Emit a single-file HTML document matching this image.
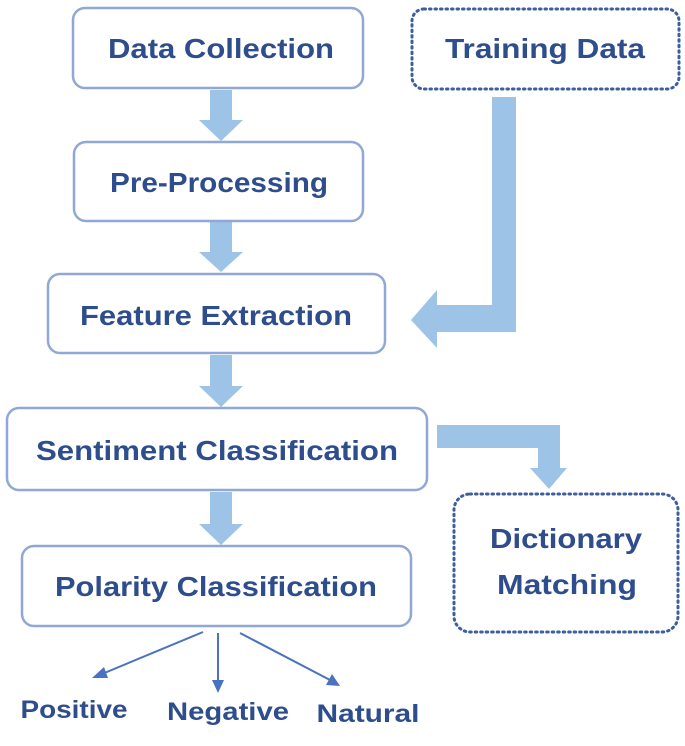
<!DOCTYPE html>
<html><head><style>html,body{margin:0;padding:0;background:#fff}svg{display:block}</style></head>
<body>
<svg width="685" height="746" viewBox="0 0 685 746" xmlns="http://www.w3.org/2000/svg" font-family="'Liberation Sans', sans-serif" font-weight="bold">
<g fill="#9dc3e6">
<polygon points="210,90 232,90 232,120 243,120 221,141 199,120 210,120"/>
<polygon points="210,222 232,222 232,252 243,252 221,272 199,252 210,252"/>
<polygon points="210,355 232,355 232,386 243,386 221,407 199,386 210,386"/>
<polygon points="210,492 232,492 232,524 243,524 221,545 199,524 210,524"/>
<polygon points="492,97 516,97 516,332 437,332 437,348 411,320 437,290 437,305 492,305"/>
<polygon points="437,425 560,425 560,468 567,468 549,489 530,468 538,468 538,448 437,448"/>
</g>
<g fill="#fff" stroke="#8fa8d6" stroke-width="2.5">
<rect x="73" y="8" width="290" height="80" rx="12"/>
<rect x="74" y="142" width="289" height="79" rx="12"/>
<rect x="48" y="274" width="337" height="79" rx="12"/>
<rect x="7" y="408" width="420" height="82" rx="12"/>
<rect x="22" y="546" width="389" height="80" rx="12"/>
</g>
<g fill="none" stroke="#3e5f9e" stroke-width="3" stroke-dasharray="1.5 4" stroke-linecap="round">
<rect x="412" y="9" width="267" height="80" rx="12"/>
<rect x="454" y="494" width="224" height="138" rx="16"/>
</g>
<g fill="#2e4d8c" font-size="28" text-anchor="middle">
<text x="221" y="58" textLength="226" lengthAdjust="spacingAndGlyphs">Data Collection</text>
<text x="545" y="58" textLength="200" lengthAdjust="spacingAndGlyphs">Training Data</text>
<text x="219" y="192" textLength="218" lengthAdjust="spacingAndGlyphs">Pre-Processing</text>
<text x="216" y="325" textLength="272" lengthAdjust="spacingAndGlyphs">Feature Extraction</text>
<text x="217" y="460" textLength="362" lengthAdjust="spacingAndGlyphs">Sentiment Classification</text>
<text x="216" y="596" textLength="322" lengthAdjust="spacingAndGlyphs">Polarity Classification</text>
<text x="566" y="548" textLength="152" lengthAdjust="spacingAndGlyphs">Dictionary</text>
<text x="567" y="594" textLength="140" lengthAdjust="spacingAndGlyphs">Matching</text>
<text x="74" y="718" font-size="25" textLength="107" lengthAdjust="spacingAndGlyphs">Positive</text>
<text x="228" y="720" font-size="25" textLength="122" lengthAdjust="spacingAndGlyphs">Negative</text>
<text x="368" y="722" font-size="25" textLength="103" lengthAdjust="spacingAndGlyphs">Natural</text>
</g>
<g stroke="#4a72c0" stroke-width="2" fill="#4a72c0">
<line x1="203" y1="632" x2="102" y2="674"/>
<polygon points="92,678 104,667 108,678" stroke="none"/>
<line x1="218" y1="633" x2="218" y2="682"/>
<polygon points="212,680 224,680 218,693" stroke="none"/>
<line x1="240" y1="633" x2="330" y2="680"/>
<polygon points="340,686 326,685 332,674" stroke="none"/>
</g>
</svg>
</body></html>
